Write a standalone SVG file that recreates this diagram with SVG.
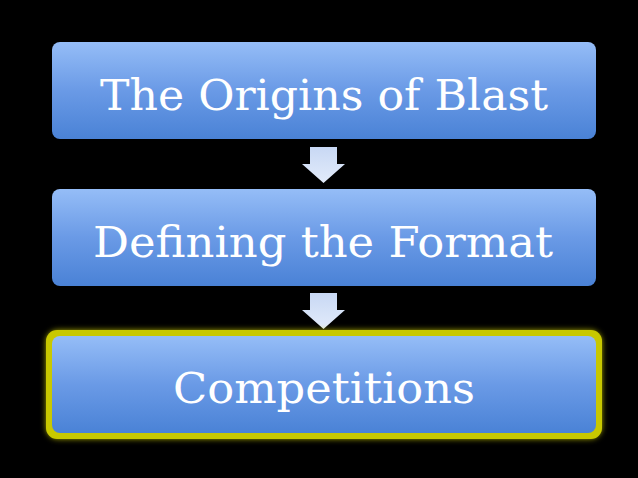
<svg xmlns="http://www.w3.org/2000/svg" width="638" height="478" viewBox="0 0 638 478">
<defs>
<linearGradient id="bg" x1="0" y1="0" x2="0" y2="1"><stop offset="0" stop-color="#95bdf7"/><stop offset="0.5" stop-color="#6a9ae6"/><stop offset="1" stop-color="#4a82d6"/></linearGradient>
<linearGradient id="ag" x1="0" y1="0" x2="0" y2="1"><stop offset="0" stop-color="#c8d8f4"/><stop offset="1" stop-color="#e2ebfa"/></linearGradient>
<filter id="glow" x="-10%" y="-20%" width="120%" height="140%"><feGaussianBlur stdDeviation="3"/></filter>
<style>.t{font-family:"DejaVu Serif","Liberation Serif",serif;font-size:42px;fill:#fff;text-anchor:middle}</style>
</defs>
<rect width="638" height="478" fill="#000"/>
<g id="connectors">
<path d="M310 147h27v17h8l-21.5 19l-21.5-19h8z" fill="url(#ag)"/>
<path d="M310 293h27v17h8l-21.5 19l-21.5-19h8z" fill="url(#ag)"/>
</g>
<g id="n1"><rect x="52" y="42" width="544" height="97" rx="8" fill="url(#bg)"/><text class="t" x="324" y="110" textLength="448" lengthAdjust="spacingAndGlyphs">The Origins of Blast</text></g>
<g id="n2"><rect x="52" y="189" width="544" height="97" rx="8" fill="url(#bg)"/><text class="t" x="323" y="257" textLength="460" lengthAdjust="spacingAndGlyphs">Defining the Format</text></g>
<g id="n3"><rect x="47" y="331" width="554" height="107" rx="11" fill="#dede00" filter="url(#glow)"/><rect x="46" y="330" width="556" height="109" rx="11" fill="#c8c800"/><rect x="52" y="336" width="544" height="97" rx="8" fill="url(#bg)"/><text class="t" x="324" y="403" textLength="302" lengthAdjust="spacingAndGlyphs">Competitions</text></g>
</svg>
